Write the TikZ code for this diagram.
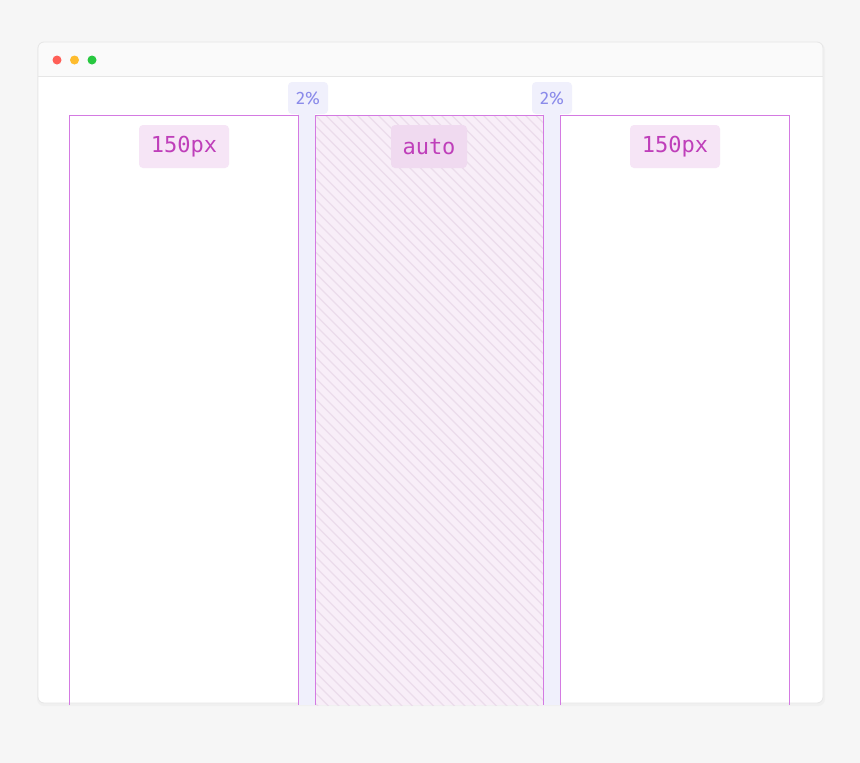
\documentclass[tikz,border=0pt]{standalone}
\usepackage{fontspec}
\setmainfont{Fira Sans}
\setmonofont{DejaVu Sans Mono}
\definecolor{pagebg}{HTML}{F6F6F6}
\definecolor{winborder}{HTML}{E6E6E6}
\definecolor{barbg}{HTML}{FAFAFA}
\definecolor{colline}{HTML}{D47AE2}
\definecolor{gapbg}{HTML}{F0F0FC}
\definecolor{gaptext}{HTML}{8B8BEA}
\definecolor{hatchbg}{HTML}{F8EEF8}
\definecolor{hatchline}{HTML}{EBDCEB}
\definecolor{labelbg}{HTML}{F6E5F6}
\definecolor{autobg}{HTML}{F0DAF0}
\definecolor{labeltext}{HTML}{BF3FBA}
\definecolor{dotred}{HTML}{FF5F57}
\definecolor{dotyellow}{HTML}{FEBC2E}
\definecolor{dotgreen}{HTML}{28C840}
\tikzset{
  collabel/.style={fill=labelbg, rounded corners=4pt, text=labeltext, font=\ttfamily\fontsize{22}{22}\selectfont, minimum width=90pt, minimum height=43pt, inner sep=0pt},
  gaplabel/.style={fill=gapbg, rounded corners=4pt, text=gaptext, font=\fontsize{18}{18}\selectfont, minimum width=40pt, minimum height=32pt, inner sep=0pt},
  colborder/.style={draw=colline, line width=0.8pt},
  windot/.style={circle, minimum size=9pt, inner sep=0pt}
}
\begin{document}
\begin{tikzpicture}[x=1pt,y=-1pt]
\useasboundingbox[fill=pagebg] (0,0) rectangle (860,763);
% window shadow
\fill[black!6, rounded corners=7pt] (37,43) rectangle (825,706);
% window
\fill[white, rounded corners=6pt] (38,42) rectangle (823,703);
\fill[barbg, rounded corners=6pt] (38,42) rectangle (823,70);
\fill[barbg] (38,62) rectangle (823,76);
\draw[winborder, line width=1pt] (38,76.5) -- (823,76.5);
\draw[winborder, line width=0.8pt, rounded corners=6pt] (38,42) rectangle (823,703);
% dots
\node[windot, fill=dotred] (dr) at (57,60) {};
\node[windot, fill=dotyellow] (dy) at (74.5,60) {};
\node[windot, fill=dotgreen] (dg) at (92,60) {};
% gaps
\fill[gapbg] (298,114) rectangle (315,705);
\fill[gapbg] (543,114) rectangle (560,705);
% hatched column
\fill[hatchbg] (315,115) rectangle (543,705);
\begin{scope}
\clip (315,115) rectangle (543,705);
\foreach \k in {-60,...,30} {
  \draw[hatchline, line width=1.3pt] (315+\k*10.5,115) -- ++(620,620);
}
\end{scope}
% column borders
\draw[colborder] (69,705) -- (69,115) -- (298,115) -- (298,705);
\draw[colborder] (315,705) -- (315,115) -- (543,115) -- (543,705);
\draw[colborder] (560,705) -- (560,115) -- (789,115) -- (789,705);
% labels
\node[gaplabel] (g1) at (308,98) {2\%};
\node[gaplabel] (g2) at (552,98) {2\%};
\node[collabel] (c1) at (184,146.5) {150px};
\node[collabel, fill=autobg, minimum width=76pt] (c2) at (429,146.5) {auto};
\node[collabel] (c3) at (675,146.5) {150px};
\end{tikzpicture}
\end{document}
